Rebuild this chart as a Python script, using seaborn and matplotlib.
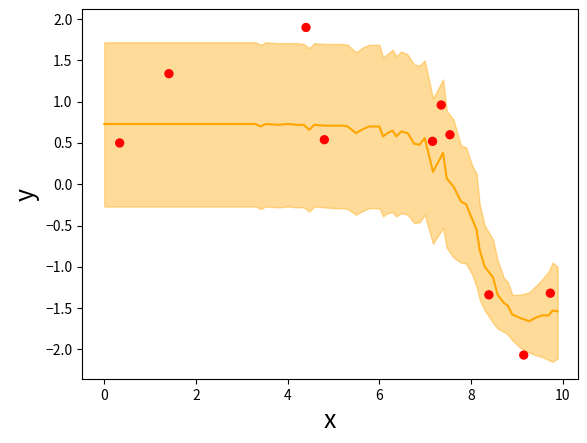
import numpy as np
import pandas as pd
import matplotlib
matplotlib.use("Agg")
import matplotlib.pyplot as plt
import seaborn as sns

# Observed points
obs_x = [0.335, 1.41, 4.40, 4.80, 7.16, 7.35, 7.54, 8.39, 9.15, 9.73]
obs_y = [0.50, 1.34, 1.90, 0.54, 0.52, 0.96, 0.60, -1.34, -2.07, -1.32]

# Predictive mean and band
grid_x = [0.00, 3.30, 3.41, 3.52, 3.80, 4.00, 4.20, 4.35, 4.47, 4.58, 4.80, 5.00,
          5.20, 5.31, 5.49, 5.65, 5.78, 6.00, 6.08, 6.18, 6.29, 6.37, 6.48, 6.62,
          6.76, 6.88, 6.99, 7.17, 7.39, 7.47, 7.62, 7.78, 7.89, 8.03, 8.12, 8.19,
          8.30, 8.48, 8.58, 8.72, 8.80, 8.90, 9.07, 9.27, 9.40, 9.54, 9.69, 9.78, 9.89]
mean_y = [0.73, 0.73, 0.70, 0.73, 0.72, 0.73, 0.72, 0.72, 0.66, 0.72, 0.71, 0.71,
          0.71, 0.70, 0.62, 0.67, 0.70, 0.70, 0.58, 0.62, 0.65, 0.58, 0.64, 0.62,
          0.49, 0.48, 0.56, 0.15, 0.38, 0.07, -0.03, -0.21, -0.24, -0.43, -0.55, -0.80,
          -1.00, -1.13, -1.34, -1.44, -1.47, -1.58, -1.62, -1.66, -1.62, -1.59, -1.59, -1.53, -1.54]
upper_y = [1.72, 1.72, 1.69, 1.72, 1.71, 1.71, 1.71, 1.70, 1.65, 1.71, 1.70, 1.70,
           1.70, 1.69, 1.60, 1.66, 1.69, 1.69, 1.54, 1.58, 1.63, 1.55, 1.61, 1.57,
           1.45, 1.44, 1.50, 1.04, 1.27, 0.89, 0.78, 0.47, 0.45, 0.22, 0.13, -0.25,
           -0.50, -0.67, -0.92, -1.14, -1.18, -1.34, -1.34, -1.31, -1.24, -1.16, -1.06, -0.95, -1.00]
lower_y = [-0.27, -0.27, -0.30, -0.27, -0.28, -0.27, -0.28, -0.28, -0.33, -0.27, -0.28, -0.29,
           -0.29, -0.30, -0.37, -0.32, -0.29, -0.29, -0.39, -0.35, -0.34, -0.39, -0.35, -0.37,
           -0.47, -0.46, -0.37, -0.72, -0.53, -0.77, -0.89, -0.95, -0.96, -1.10, -1.24, -1.40,
           -1.53, -1.68, -1.75, -1.79, -1.82, -1.89, -1.98, -2.04, -2.07, -2.09, -2.13, -2.15, -2.11]

plt.rcParams['font.family'] = ['Noto Sans CJK JP', 'DejaVu Sans']

pred = pd.DataFrame({"x": grid_x, "mean": mean_y, "lo": lower_y, "hi": upper_y})
obs = pd.DataFrame({"x": obs_x, "y": obs_y})

fig = plt.figure(figsize=(5.87, 4.43), dpi=100)
ax = fig.add_axes([82.3 / 587, 64 / 443, 496 / 587, 369.7 / 443])

ax.fill_between(pred["x"], pred["lo"], pred["hi"], color="orange", alpha=0.4, linewidth=1)
sns.lineplot(data=pred, x="x", y="mean", color="orange", linewidth=1.5, ax=ax)
sns.scatterplot(data=obs, x="x", y="y", color="red", s=45, edgecolor="none", ax=ax, zorder=3)

ax.set_xlim(-0.48, 10.34)
ax.set_ylim(-2.36, 2.12)
ax.set_xlabel("x", fontsize=18)
ax.set_ylabel("y", fontsize=18)
ax.tick_params(labelsize=10)

fig.savefig("out.png", dpi=100)
